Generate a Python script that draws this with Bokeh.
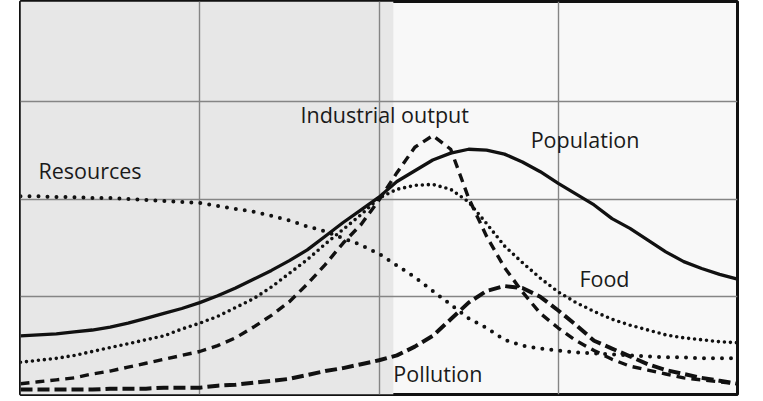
from bokeh.plotting import figure
from bokeh.models import Range1d, Grid, FixedTicker, BoxAnnotation
from bokeh.core.properties import value
from bokeh.embed import file_html
from bokeh.resources import INLINE

# ---- data (relative levels) ----
years = list(range(1900, 2101, 5))

population = [0.60, 0.61, 0.62, 0.64, 0.66, 0.69, 0.73, 0.78, 0.83, 0.88,
              0.94, 1.01, 1.09, 1.18, 1.27, 1.37, 1.48, 1.62, 1.76, 1.89,
              2.02, 2.18, 2.29, 2.40, 2.47, 2.51, 2.50, 2.46, 2.38, 2.28,
              2.16, 2.05, 1.94, 1.80, 1.70, 1.58, 1.46, 1.36, 1.29, 1.23, 1.18]

industrial_output = [0.11, 0.13, 0.15, 0.17, 0.21, 0.24, 0.28, 0.32, 0.36, 0.40,
                     0.44, 0.50, 0.58, 0.69, 0.81, 0.95, 1.13, 1.33, 1.55, 1.74,
                     1.99, 2.27, 2.53, 2.65, 2.51, 2.01, 1.62, 1.30, 1.05, 0.83,
                     0.68, 0.55, 0.45, 0.36, 0.29, 0.25, 0.21, 0.17, 0.15, 0.13, 0.11]

food = [0.33, 0.35, 0.37, 0.40, 0.44, 0.48, 0.52, 0.56, 0.60, 0.67,
        0.73, 0.80, 0.89, 0.98, 1.10, 1.24, 1.38, 1.54, 1.69, 1.84,
        2.01, 2.10, 2.14, 2.15, 2.10, 1.97, 1.75, 1.52, 1.35, 1.19,
        1.05, 0.94, 0.85, 0.77, 0.71, 0.66, 0.61, 0.58, 0.56, 0.54, 0.53]

resources = [2.03, 2.03, 2.02, 2.02, 2.01, 2.01, 2.00, 1.99, 1.98, 1.97,
             1.96, 1.93, 1.90, 1.87, 1.83, 1.78, 1.72, 1.67, 1.60, 1.53,
             1.44, 1.32, 1.20, 1.06, 0.92, 0.78, 0.68, 0.56, 0.50, 0.47,
             0.45, 0.43, 0.42, 0.41, 0.40, 0.39, 0.38, 0.38, 0.37, 0.37, 0.37]

pollution = [0.05, 0.05, 0.05, 0.05, 0.05, 0.06, 0.06, 0.06, 0.07, 0.07,
             0.07, 0.09, 0.10, 0.12, 0.14, 0.16, 0.20, 0.24, 0.27, 0.31,
             0.35, 0.40, 0.49, 0.60, 0.77, 0.94, 1.06, 1.11, 1.09, 1.00,
             0.86, 0.71, 0.55, 0.47, 0.39, 0.31, 0.25, 0.21, 0.17, 0.14, 0.11]

label_text = ["Resources", "Industrial output", "Population", "Food", "Pollution"]
label_year = [1905.0, 1978.1, 2042.3, 2055.9, 2004.0]
label_level = [2.29, 2.87, 2.61, 1.19, 0.22]

grid_years = [1950, 2000, 2050]
grid_levels = [1, 2, 3]
historical_end = 2004

# ---- figure ----
p = figure(width=763, height=401, output_backend="svg", toolbar_location=None,
           x_range=Range1d(1900, 2100), y_range=Range1d(0, 4.022),
           x_axis_location=None, y_axis_location=None,
           min_border_left=20, min_border_right=26,
           min_border_top=1, min_border_bottom=7,
           background_fill_color="#f8f8f8", border_fill_color="white",
           outline_line_color="#111111", outline_line_width=3)
p.grid.visible = False

shade = BoxAnnotation(left=1900, right=historical_end, fill_color="#e7e7e7",
                      fill_alpha=1.0, line_color=None, level="underlay")
p.add_layout(shade)

for dim, ticks in ((0, grid_years), (1, grid_levels)):
    g = Grid(dimension=dim, ticker=FixedTicker(ticks=ticks),
             grid_line_color="#858585", grid_line_width=1.4)
    p.add_layout(g)

p.line(years, resources, line_color="#111111", line_width=4,
       line_dash="0 9", line_cap="round")
p.line(years, food, line_color="#111111", line_width=3.6,
       line_dash="0 6", line_cap="round")
p.line(years, pollution, line_color="#111111", line_width=4,
       line_dash="12 5", line_join="round")
p.line(years, industrial_output, line_color="#111111", line_width=3.4,
       line_dash="9 6", line_join="round")
p.line(years, population, line_color="#111111", line_width=3.3,
       line_join="round")

p.text(x=label_year, y=label_level, text=label_text,
       text_font=value("Open Sans"), text_font_size="21.5px",
       text_color="#1a1a1a", text_baseline="alphabetic", text_align="left")

open("out.html", "w").write(file_html(p, INLINE))
